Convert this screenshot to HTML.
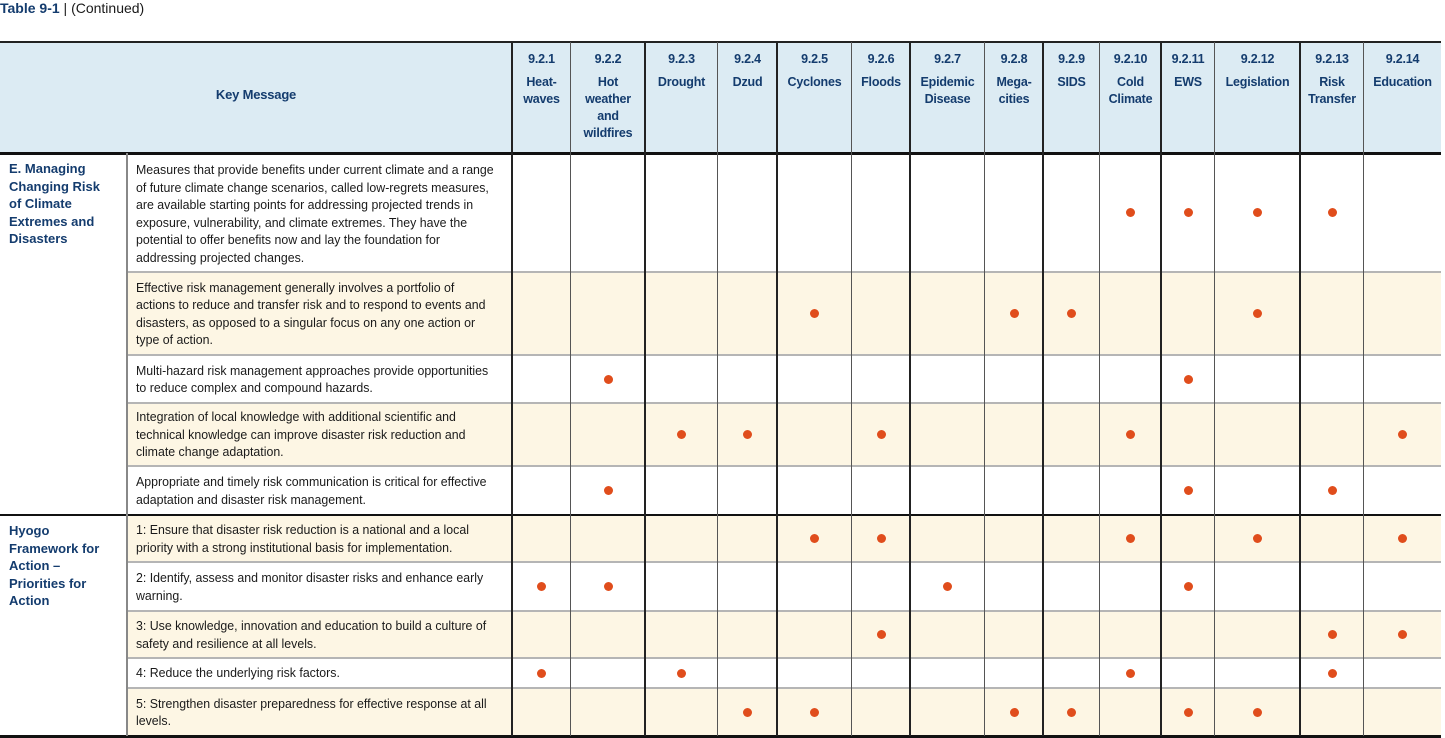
<!DOCTYPE html>
<html><head><meta charset="utf-8">
<style>
body{margin:0;width:1445px;height:738px;background:#fff;overflow:hidden;position:relative;font-family:"Liberation Sans",sans-serif;}
.a{position:absolute;}
.t{position:absolute;white-space:nowrap;font-size:13px;line-height:17.5px;color:#1a1a1a;}
.m{transform:scaleX(0.95);transform-origin:0 0;}
.h{color:#143c6e;font-weight:bold;text-align:center;font-size:12.5px;letter-spacing:-0.2px;}
.c{color:#143c6e;font-weight:bold;}
.dot{position:absolute;width:9px;height:9px;border-radius:50%;background:#e04d1c;}
</style></head>
<body>
<div class="t" style="left:0;top:0;font-size:14px;"><b style="color:#143c6e">Table 9-1</b> | (Continued)</div>
<div id="tbl"></div>
<script>
const colX=[0,127,512,571,645,718,777,852,910,985,1043,1100,1161,1215,1300,1364,1441];
const rowY=[42,153,272,355,403,466,515,562,611,658,688,736];
const colNums=["9.2.1","9.2.2","9.2.3","9.2.4","9.2.5","9.2.6","9.2.7","9.2.8","9.2.9","9.2.10","9.2.11","9.2.12","9.2.13","9.2.14"];
const colNames=[["Heat-","waves"],["Hot","weather","and","wildfires"],["Drought"],["Dzud"],["Cyclones"],["Floods"],["Epidemic","Disease"],["Mega-","cities"],["SIDS"],["Cold","Climate"],["EWS"],["Legislation"],["Risk","Transfer"],["Education"]];
const messages=[
["Measures that provide benefits under current climate and a range","of future climate change scenarios, called low-regrets measures,","are available starting points for addressing projected trends in","exposure, vulnerability, and climate extremes. They have the","potential to offer benefits now and lay the foundation for","addressing projected changes."],
["Effective risk management generally involves a portfolio of","actions to reduce and transfer risk and to respond to events and","disasters, as opposed to a singular focus on any one action or","type of action."],
["Multi-hazard risk management approaches provide opportunities","to reduce complex and compound hazards."],
["Integration of local knowledge with additional scientific and","technical knowledge can improve disaster risk reduction and","climate change adaptation."],
["Appropriate and timely risk communication is critical for effective","adaptation and disaster risk management."],
["1: Ensure that disaster risk reduction is a national and a local","priority with a strong institutional basis for implementation."],
["2: Identify, assess and monitor disaster risks and enhance early","warning."],
["3: Use knowledge, innovation and education to build a culture of","safety and resilience at all levels."],
["4: Reduce the underlying risk factors."],
["5: Strengthen disaster preparedness for effective response at all","levels."]];
const marks=[[10,11,12,13],[5,8,9,12],[2,11],[3,4,6,10,14],[2,11,13],[5,6,10,12,14],[1,2,7,11],[6,13,14],[1,3,10,13],[4,5,8,9,11,12]];
const cats=[{row:0,lines:["E. Managing","Changing Risk","of Climate","Extremes and","Disasters"]},{row:5,lines:["Hyogo","Framework for","Action –","Priorities for","Action"]}];
const T=document.getElementById('tbl');
function box(x,y,w,h,bg){const d=document.createElement('div');d.className='a';d.style.cssText=`left:${x}px;top:${y}px;width:${w}px;height:${h}px;background:${bg}`;T.appendChild(d);return d;}
const hb=box(0,rowY[0],colX[16],rowY[1]-rowY[0],'#dcebf3');


messages.forEach((m,i)=>{
  if(i%2===1){const b=box(colX[1],rowY[i+1],colX[16]-colX[1],rowY[i+2]-rowY[i+1],'#fdf6e4');
  
  }
});
for(let i=2;i<rowY.length-1;i++){ if(i===6)continue; box(colX[1],rowY[i]-1,colX[16]-colX[1],2,'#b5b5b5');}
box(0,rowY[0]-1,colX[16],2,'#222');
box(0,rowY[1]-1,colX[16],3,'#111');
box(0,rowY[6]-1,colX[16],2,'#111');
box(0,rowY[11]-1,colX[16],3,'#111');
box(colX[1]-1,rowY[1],2,rowY[11]-rowY[1],'#888');
for(let j=2;j<16;j++){box(colX[j]-1,rowY[0],(j%2===0)?1.5:1.2,rowY[11]-rowY[0],(j%2===0)?'#222':'#555');}
let k=document.createElement('div');k.className='t h';k.style.cssText='left:0;width:512px;top:86px;font-size:13px;';k.textContent='Key Message';


T.appendChild(k);
colNums.forEach((n,j)=>{
  const d=document.createElement('div');d.className='t h';
  d.style.cssText=`left:${colX[j+2]}px;width:${colX[j+3]-colX[j+2]}px;top:51px;line-height:17px;`;
  d.innerHTML=n+'<div style="height:6px"></div>'+colNames[j].join('<br>');
  
  
  T.appendChild(d);
});
messages.forEach((m,i)=>{
  const d=document.createElement('div');d.className='t m';
  const h=m.length*17.5;const top=(i===0)?161:(rowY[i+1]+rowY[i+2])/2-h/2;
  d.style.cssText=`left:136px;top:${top}px;`;d.innerHTML=m.join('<br>');
  
  
  T.appendChild(d);
  marks[i].forEach(c=>{
    const dt=document.createElement('div');dt.className='dot';
    const cx=(colX[c+1]+colX[c+2])/2,cy=(rowY[i+1]+rowY[i+2])/2;
    dt.style.left=(cx-4.5)+'px';dt.style.top=(cy-4.5)+'px';
    
    
    T.appendChild(dt);
  });
});
cats.forEach(c=>{
  const d=document.createElement('div');d.className='t c';
  d.style.cssText=`left:9px;top:${rowY[c.row+1]+7}px;`;d.innerHTML=c.lines.join('<br>');
  
  
  T.appendChild(d);
});
</script>
</body></html>
